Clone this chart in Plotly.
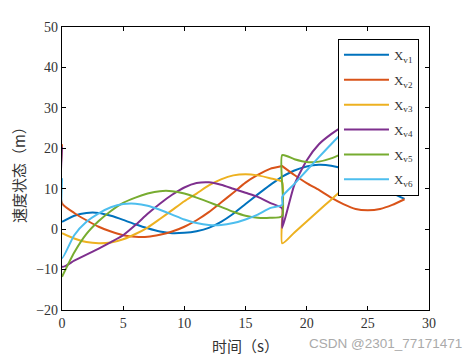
import plotly.graph_objects as go

# time axis: t=0 twice (initial spike), 1..18, 18 again (switch), 19..28
t_pre = [0, 0, 1, 2, 3, 4, 5, 6, 7, 8, 9, 10, 11, 12, 13, 14, 15, 16, 17, 18]
t_post = [18, 19, 20, 21, 22, 23, 24, 25, 26, 27, 28]

names = ["X<sub>v1</sub>", "X<sub>v2</sub>", "X<sub>v3</sub>",
         "X<sub>v4</sub>", "X<sub>v5</sub>", "X<sub>v6</sub>"]

v1_pre = [1.8, 1.8, 3.3, 4.0, 4.0, 3.3, 2.3, 1.2, 0.2, -0.6, -1.0, -0.9, -0.5, 0.3, 1.8, 3.8, 6.2, 8.6, 10.9, 13.0]
v1_post = [13.0, 14.5, 15.5, 15.9, 15.7, 15.0, 13.8, 12.3, 10.7, 9.0, 7.5]

v2_pre = [21.0, 6.4, 4.0, 2.2, 0.6, -0.6, -1.5, -1.9, -1.9, -1.4, -0.6, 0.6, 2.2, 4.2, 6.6, 9.0, 11.5, 13.4, 14.9, 15.6]
v2_post = [15.6, 13.4, 11.4, 9.7, 7.8, 6.2, 5.0, 4.7, 5.0, 6.0, 7.4]

v3_pre = [-1.0, -1.0, -2.3, -3.2, -3.5, -3.3, -2.5, -1.2, 0.4, 2.5, 4.7, 6.9, 8.8, 10.8, 12.3, 13.3, 13.6, 13.3, 12.6, 11.6]
v3_post = [-3.5, -0.8, 1.9, 4.6, 7.3, 10.0, 12.5, 14.8, 17.0, 19.0, 21.0]

v4_pre = [20.4, -9.3, -7.8, -6.3, -4.8, -3.2, -1.5, 1.0, 3.8, 6.3, 8.5, 10.3, 11.4, 11.6, 11.0, 10.0, 9.0, 8.0, 6.5, 5.1]
v4_post = [0.3, 11.0, 17.0, 21.0, 23.5, 25.5, 27.0, 28.0, 28.7, 29.2, 29.5]

v5_pre = [-11.8, -11.8, -5.8, -1.2, 2.0, 4.5, 6.5, 7.8, 8.8, 9.4, 9.4, 8.8, 7.8, 6.7, 5.5, 4.3, 3.3, 2.8, 2.8, 3.2]
v5_post = [18.3, 17.3, 16.6, 16.7, 17.5, 18.8, 20.2, 21.5, 22.6, 23.5, 24.2]

v6_pre = [12.6, -7.2, -1.5, 1.8, 3.9, 5.4, 6.2, 6.3, 5.8, 4.8, 3.6, 2.4, 1.5, 1.0, 1.0, 1.5, 2.4, 3.6, 5.2, 6.0]
v6_post = [8.0, 11.2, 14.5, 17.8, 21.0, 24.0, 26.5, 28.3, 29.5, 30.3, 30.8]

x_ticks = [0, 5, 10, 15, 20, 25, 30]
y_ticks = [-20, -10, 0, 10, 20, 30, 40, 50]

colors = ["#0072BD", "#D95319", "#EDB120", "#7E2F8E", "#77AC30", "#4DBEEE"]
pre = [v1_pre, v2_pre, v3_pre, v4_pre, v5_pre, v6_pre]
post = [v1_post, v2_post, v3_post, v4_post, v5_post, v6_post]

fig = go.Figure()
for i, (name, c, a, b) in enumerate(zip(names, colors, pre, post)):
    # pre-switch and post-switch pieces drawn as one trace (vertical jumps at t=0 and t=18)
    fig.add_trace(go.Scatter(x=t_pre + t_post, y=a + b, mode="lines", name=name,
                             legendgroup="g%d" % i,
                             line=dict(color=c, width=2, shape="spline", smoothing=0.6)))

serif = "Liberation Serif, Times New Roman, serif"
axis_common = dict(showgrid=False, zeroline=False, showline=True, linecolor="black",
                   linewidth=1.2, mirror="ticks", ticks="inside", ticklen=4,
                   tickcolor="black", tickwidth=1,
                   tickfont=dict(family=serif, size=14, color="#333"))
fig.update_xaxes(range=[0, 30], tickvals=x_ticks, **axis_common)
fig.update_yaxes(range=[-20, 50], tickvals=y_ticks, **axis_common)

# page body has an 8px margin, so the figure is 8px smaller and offset
fig.update_layout(
    width=466, height=347,
    margin=dict(l=54, r=45, t=19, b=45),
    paper_bgcolor="white", plot_bgcolor="white",
    showlegend=True,
    legend=dict(x=0.752, y=0.958, xanchor="left", yanchor="top",
                bgcolor="white", bordercolor="black", borderwidth=1,
                font=dict(family=serif, size=13, color="#333"),
                itemwidth=45, traceorder="grouped", tracegroupgap=5),
    annotations=[
        dict(text="时间（s）", xref="paper", yref="paper", x=0.5, y=-0.125,
             xanchor="center", yanchor="middle", showarrow=False,
             font=dict(family="Noto Sans CJK SC", size=15, color="#333")),
        dict(text="速度状态（m）", xref="paper", yref="paper", x=-0.118, y=0.49,
             xanchor="center", yanchor="middle", showarrow=False, textangle=-90,
             font=dict(family="Noto Sans CJK SC", size=15, color="#333")),
        dict(text="CSDN @2301_77171471", xref="paper", yref="paper", x=0.6676, y=-0.117,
             xanchor="left", yanchor="middle", showarrow=False,
             font=dict(family="Liberation Sans, Arial", size=13.5, color="#aaaaaa")),
    ],
)

fig.write_html("out.html")
